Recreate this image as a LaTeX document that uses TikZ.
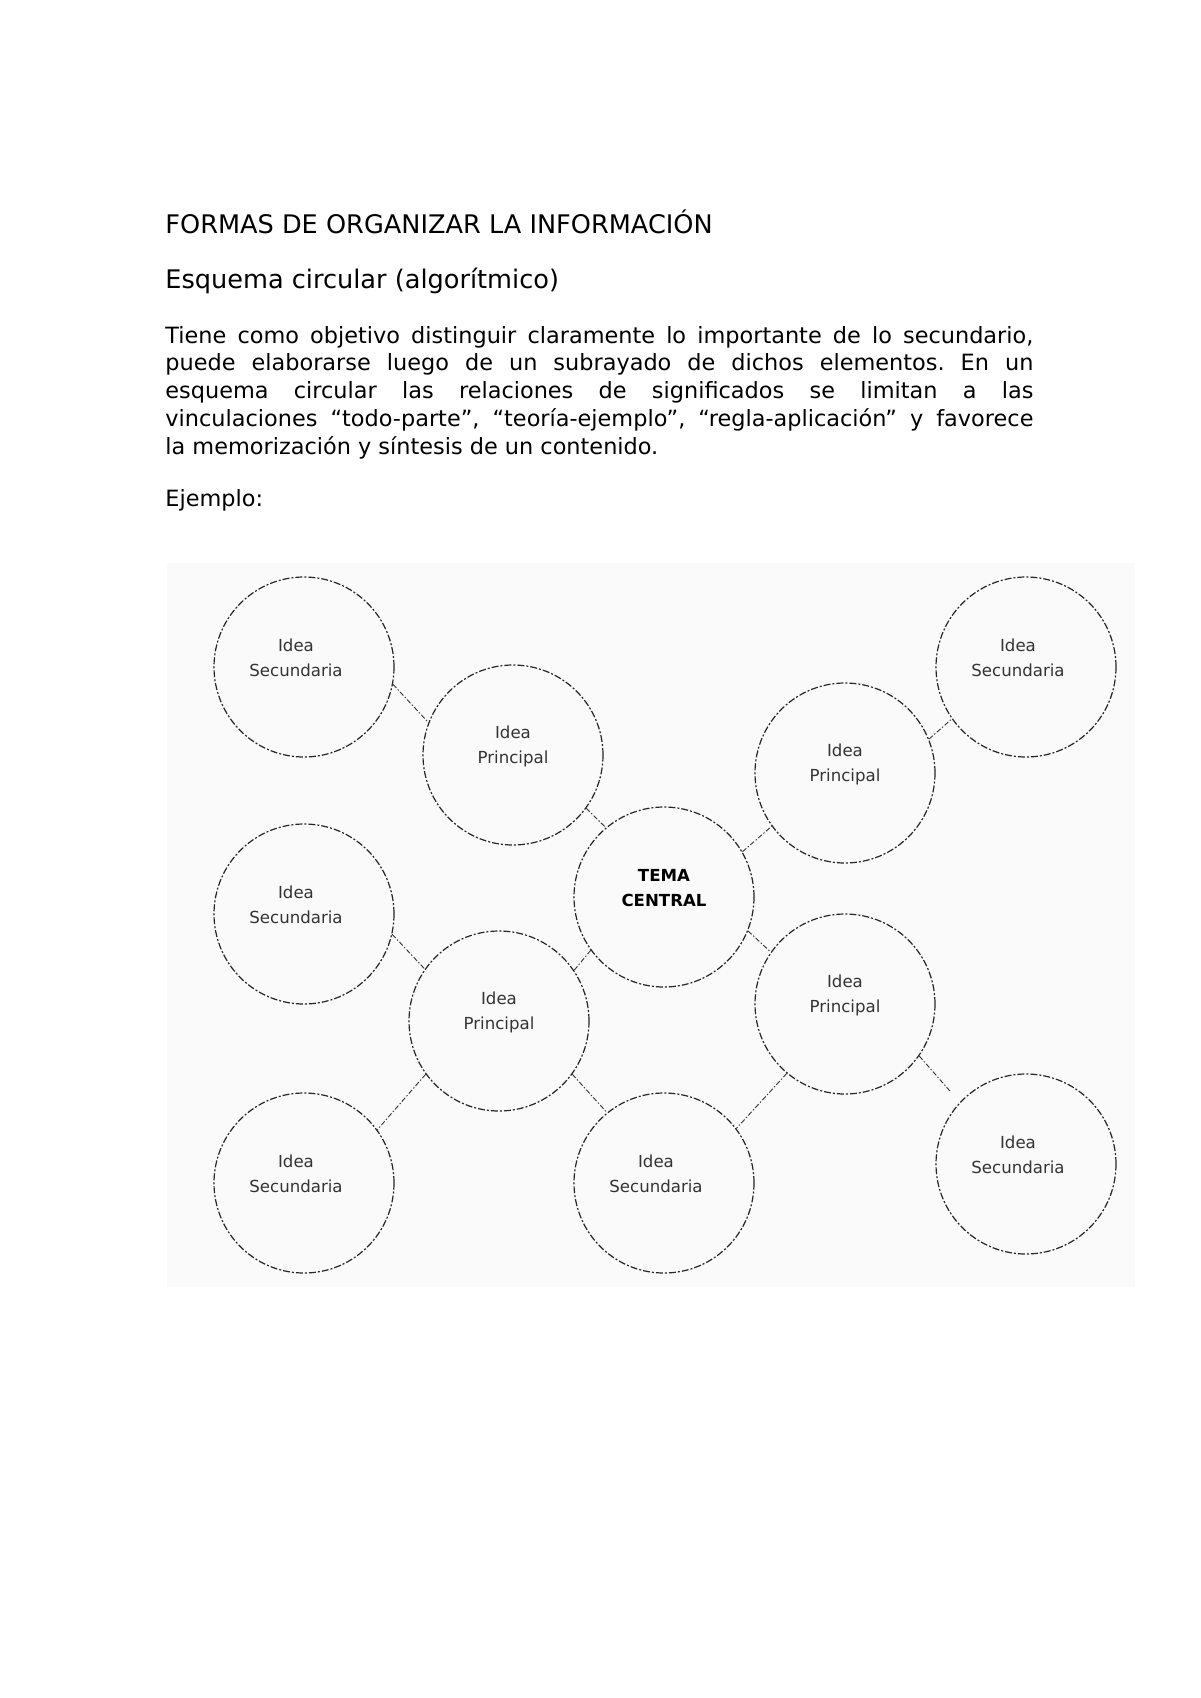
\documentclass[tikz,border=0pt]{standalone}
\usepackage{fontspec}
\setmainfont{DejaVu Sans}
\usepackage{tikz}
\definecolor{fondo}{RGB}{250,250,250}

\begin{document}
\begin{tikzpicture}[x=0.5pt, y=-0.5pt,
		idea/.style={draw=black!85, circle, minimum size=90pt, inner sep=0pt, line width=0.6pt, dash pattern=on 3.5pt off 1pt on 1pt off 1pt},
		rotulo/.style={font=\fontsize{8.3}{12.5}\selectfont, align=center, text=black!80, yshift=4.5pt},
		enlace/.style={draw=black!80, line width=0.45pt, dash pattern=on 2.5pt off 1pt on 0.7pt off 1pt}]
		\useasboundingbox (0,0) rectangle (1200,1698);
		\fill[fondo] (167,563) rectangle (1135,1287);

		\node[anchor=base west, inner sep=0pt, font=\fontsize{12.8}{15}\selectfont] (titulo) at (165,233) {FORMAS DE ORGANIZAR LA INFORMACIÓN};
		\node[anchor=base west, inner sep=0pt, font=\fontsize{12.8}{15}\selectfont] (subtitulo) at (165,288) {Esquema circular (algorítmico)};
		\node[anchor=base west, inner sep=0pt, text width=434pt, align=justify, font=\fontsize{11.2}{13.9}\selectfont\frenchspacing] (cuerpo) at (165,343) {Tiene como objetivo distinguir claramente lo importante de lo secundario,\linebreak puede elaborarse luego de un subrayado de dichos elementos. En un\linebreak esquema circular las relaciones de significados se limitan a las\linebreak vinculaciones “todo-parte”, “teoría-ejemplo”, “regla-aplicación” y favorece\linebreak la memorización y síntesis de un contenido.};
		\node[anchor=base west, inner sep=0pt, font=\fontsize{11.2}{13.9}\selectfont] (ejemplo) at (165,506) {Ejemplo:};

		\foreach \n/\x/\y/\tipo/\dx in{
				sTL/304/667/Secundaria/-4,
				pTL/513/755/Principal/0,
				pTR/845/773/Principal/0,
				sTR/1026/667/Secundaria/-4,
				sML/304/914/Secundaria/-4,
				pLL/499/1021/Principal/0,
				pLR/845/1004/Principal/0,
				sBL/304/1183/Secundaria/-4,
				sBM/664/1183/Secundaria/-4,
				sBR/1026/1164/Secundaria/-4
		}{
		\node[idea, label={[rotulo, xshift=\dx pt]center:Idea\\\tipo}] (\n) at (\x,\y) {};
		}
		\node[idea, label={[rotulo, font=\fontsize{8.3}{12.5}\selectfont\bfseries, text=black]center:TEMA\\CENTRAL}] (tema) at (664,897) {};

		\foreach \a/\b in{
				sTL.-11/pTL.159,
				pTL.-36/tema.130,
				tema.30/pTR.216,
				pTR.22/sTR.215,
				tema.-22/pLR.145,
				tema.216/pLL.34,
				sML.-13/pLL.145,
				pLL.216/sBL.36,
				pLL.-36/sBM.129,
				pLR.230/sBM.37
		}{
		\draw[enlace] (\a) -- (\b);
		}
		\draw[enlace, shorten >=7pt] (pLR.-35) -- (sBR.137);
\end{tikzpicture}
\end{document}
